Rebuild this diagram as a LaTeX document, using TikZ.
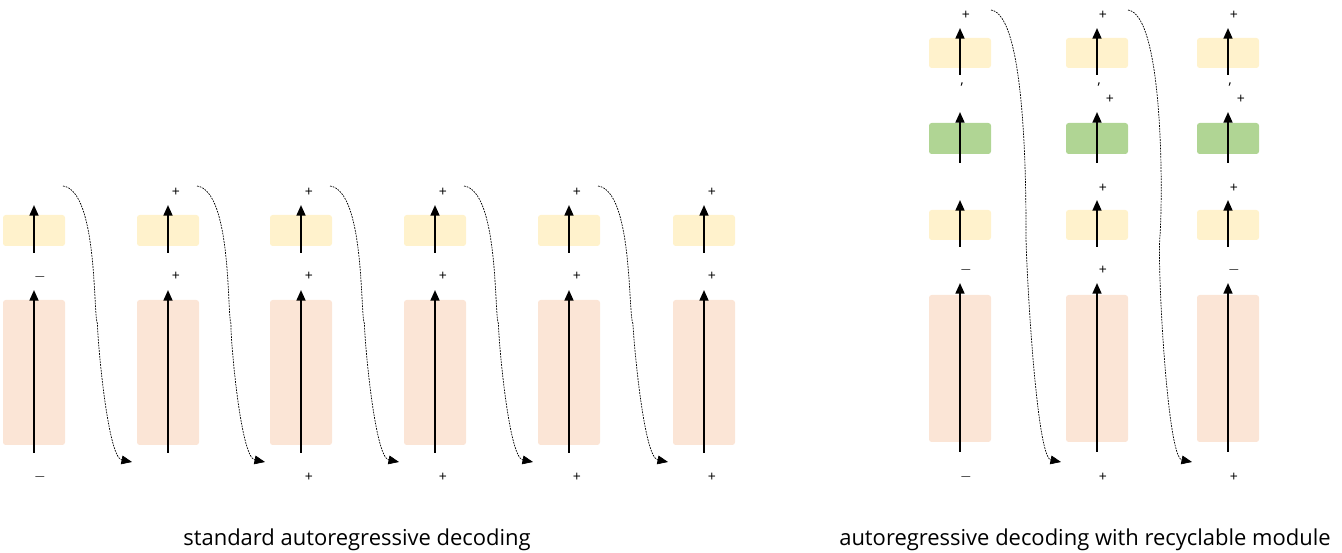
\documentclass[tikz,border=0pt]{standalone}
\usepackage{fontspec}
\setmainfont{Open Sans}
\usetikzlibrary{arrows.meta,calc}
\definecolor{yel}{HTML}{FFF2CC}
\definecolor{pnk}{HTML}{FBE5D6}
\definecolor{grn}{HTML}{B0D594}
\tikzset{
  ybox/.style={fill=yel,draw=none,rounded corners=1.5pt},
  pbox/.style={fill=pnk,draw=none,rounded corners=1.5pt},
  gbox/.style={fill=grn,draw=none,rounded corners=1.5pt},
  flow/.style={-{Triangle[length=6pt,width=5pt]},line width=1.1pt},
  recur/.style={-{Triangle[length=6pt,width=5pt]},line width=0.4pt,dash pattern=on 1pt off 0.6pt},
  sym/.style={inner sep=0pt,font=\fontsize{8}{9}\selectfont},
  captxt/.style={font=\fontsize{12.5}{14}\selectfont}
}
\begin{document}
\begin{tikzpicture}[x=0.02cm,y=-0.02cm]
\useasboundingbox (0,0) rectangle (1342,553);
% left group
\foreach \i/\x in {1/34,2/168,3/301,4/435,5/569,6/704}{
  \fill[ybox] (\x-31,215) rectangle (\x+31,246);
  \fill[pbox] (\x-31,300) rectangle (\x+31,445);
  \coordinate (ya\i) at (\x,253); \coordinate (yb\i) at (\x,205);
  \coordinate (pa\i) at (\x,453); \coordinate (pb\i) at (\x,290);
  \draw[flow] (ya\i) -- (yb\i);
  \draw[flow] (pa\i) -- (pb\i);
  \coordinate (cs\i) at (\x+29,186);
  \coordinate (ce\i) at (\x-36,462);
}
\node[sym] at (40,277) {$-$};
\node[sym] at (40,477) {$-$};
\foreach \x in {168,301,435,569,704}{
  \node[sym] at (\x+8,192) {+};
  \node[sym] at (\x+8,276) {+};
}
\foreach \x in {301,435,569,704}{ \node[sym] at (\x+8,477) {+}; }
\foreach \a/\b in {1/2,2/3,3/4,4/5,5/6}{
  \draw[recur] (cs\a) .. controls ($(cs\a)+(35,5)$) and ($(cs\a)+(30,130)$) .. ($(cs\a)!0.5!(ce\b)$)
     .. controls ($(ce\b)+(-35,-130)$) and ($(ce\b)+(-25,-5)$) .. (ce\b);
}
% right group
\foreach \i/\x in {1/960,2/1097,3/1228}{
  \fill[ybox] (\x-31,38) rectangle (\x+31,68);
  \fill[gbox] (\x-31,123) rectangle (\x+31,154);
  \fill[ybox] (\x-31,210) rectangle (\x+31,240);
  \fill[pbox] (\x-31,295) rectangle (\x+31,442);
  \draw[flow] (\x,75) -- (\x,28);
  \draw[flow] (\x,163) -- (\x,112);
  \draw[flow] (\x,247) -- (\x,200);
  \draw[flow] (\x,452) -- (\x,283);
  \node[sym] at (\x+6,15) {+};
  \node[sym] at (\x+2,85) {,};
  \coordinate (rs\i) at (\x+31,10);
  \coordinate (re\i) at (\x-36,462);
}
\foreach \x in {1097,1228}{
  \node[sym] at (\x+13,99) {+};
  \node[sym] at (\x+6,188) {+};
}
\node[sym] at (966,270) {$-$};
\node[sym] at (1103,270) {+};
\node[sym] at (1234,270) {$-$};
\node[sym] at (966,477) {$-$};
\node[sym] at (1103,477) {+};
\node[sym] at (1234,477) {+};
\foreach \a/\b in {1/2,2/3}{
  \draw[recur] (rs\a) .. controls ($(rs\a)+(35,5)$) and ($(rs\a)+(35,180)$) .. ($(rs\a)!0.5!(re\b)$)
     .. controls ($(re\b)+(-35,-200)$) and ($(re\b)+(-25,-5)$) .. (re\b);
}
\node[captxt] at (357,540) {standard autoregressive decoding};
\node[captxt] at (1085,540) {autoregressive decoding with recyclable module};
\end{tikzpicture}
\end{document}
